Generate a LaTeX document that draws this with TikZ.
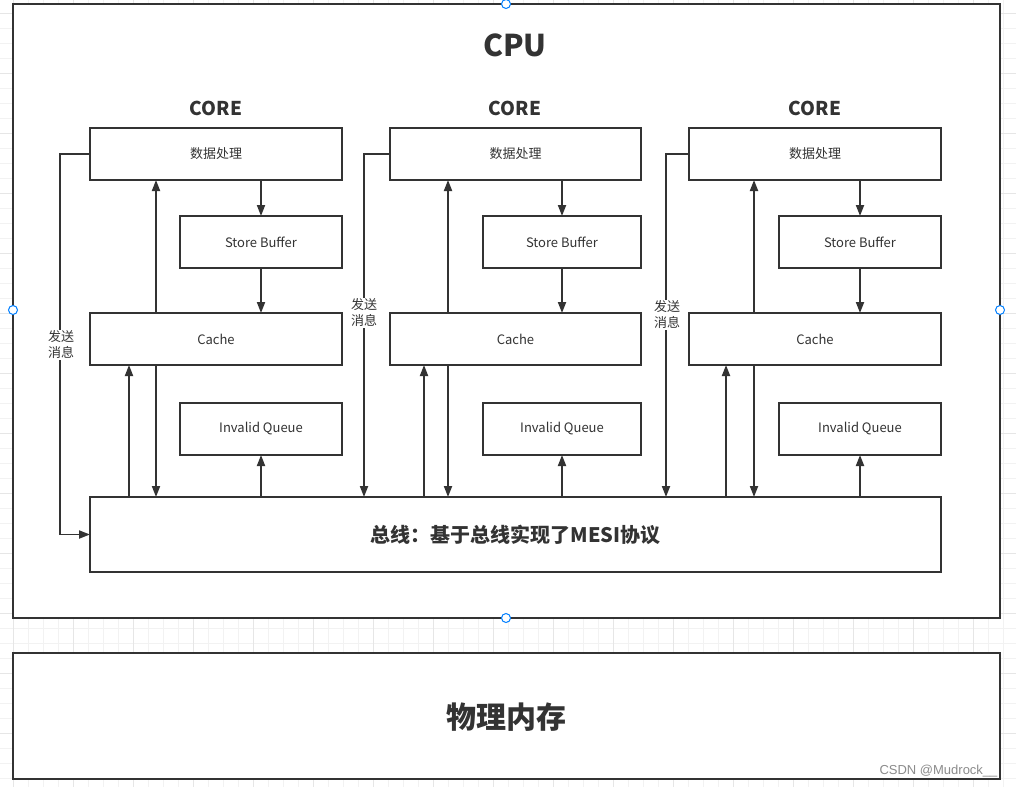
\documentclass[tikz,border=0pt]{standalone}
\usepackage{fontspec}
\setmainfont{Noto Sans CJK SC}
\newfontfamily\wmfont{Liberation Sans}
\usetikzlibrary{arrows.meta}
\definecolor{ink}{HTML}{333333}
\definecolor{gridminor}{HTML}{F2F2F2}
\definecolor{gridmajor}{HTML}{E6E6E6}
\definecolor{handle}{RGB}{0,127,255}
\tikzset{
  box/.style={draw=ink, line width=1.8pt, fill=white, inner sep=0pt, outer sep=0pt,
              anchor=north west, text=ink, font=\fontsize{13}{15}\selectfont},
  bigbox/.style={draw=ink, line width=1.8pt, fill=white, inner sep=0pt, outer sep=0pt, anchor=north west},
  conn/.style={draw=ink, line width=1.9pt},
  arr/.style={conn, -{Triangle[length=11pt,width=8pt]}},
  msg/.style={fill=white, text=ink, inner sep=1pt, align=center,
              font=\fontsize{13}{16}\selectfont},
  corelabel/.style={text=ink, font=\fontsize{19}{21}\selectfont\bfseries},
  handlept/.style={circle, draw=handle, fill=white, line width=1pt, minimum size=9pt, inner sep=0pt},
}
\begin{document}
\begin{tikzpicture}[x=1pt,y=-1pt]
\useasboundingbox (0,0) rectangle (1016,787);
\fill[white] (0,0) rectangle (1016,787);
% grid
\foreach \k in {-1,...,66} \draw[gridminor, line width=0.8pt] ({13+15*\k},0) -- ({13+15*\k},787);
\foreach \k in {-1,...,51} \draw[gridminor, line width=0.8pt] (0,{13+15*\k}) -- (1016,{13+15*\k});
\foreach \k in {-1,...,16} \draw[gridmajor, line width=0.8pt] ({13+60*\k},0) -- ({13+60*\k},787);
\foreach \k in {-1,...,12} \draw[gridmajor, line width=0.8pt] (0,{13+60*\k}) -- (1016,{13+60*\k});

% outer boxes
\node[bigbox, minimum width=987pt, minimum height=614pt] (cpu) at (13,4) {};
\node[bigbox, minimum width=987pt, minimum height=126pt] (mem) at (13,653) {};
\node[text=ink, font=\fontsize{30}{32}\selectfont\bfseries] (cputitle) at (515,45) {CPU};
\node[text=ink, font=\fontsize{30}{32}\selectfont\bfseries] (memtitle) at (506,717) {物理内存};

% bus
\node[box, minimum width=851pt, minimum height=75pt, font=\fontsize{20}{22}\selectfont\bfseries] (bus) at (90,497) {总线：基于总线实现了MESI协议};

% core labels
\node[corelabel] (core1) at (216,108) {CORE};
\node[corelabel] (core2) at (515,108) {CORE};
\node[corelabel] (core3) at (815,108) {CORE};

% core 1
\node[box, minimum width=252pt, minimum height=52pt] (dp1) at (90,128) {数据处理};
\node[box, minimum width=162pt, minimum height=52pt] (sb1) at (180,216) {Store Buffer};
\node[box, minimum width=252pt, minimum height=52pt] (ca1) at (90,313) {Cache};
\node[box, minimum width=162pt, minimum height=52pt] (iq1) at (180,403) {Invalid Queue};
% core 2
\node[box, minimum width=251pt, minimum height=52pt] (dp2) at (390,128) {数据处理};
\node[box, minimum width=158pt, minimum height=52pt] (sb2) at (483,216) {Store Buffer};
\node[box, minimum width=251pt, minimum height=52pt] (ca2) at (390,313) {Cache};
\node[box, minimum width=158pt, minimum height=52pt] (iq2) at (483,403) {Invalid Queue};
% core 3
\node[box, minimum width=252pt, minimum height=52pt] (dp3) at (689,128) {数据处理};
\node[box, minimum width=162pt, minimum height=52pt] (sb3) at (779,216) {Store Buffer};
\node[box, minimum width=252pt, minimum height=52pt] (ca3) at (689,313) {Cache};
\node[box, minimum width=162pt, minimum height=52pt] (iq3) at (779,403) {Invalid Queue};

% helper x positions
\coordinate (u1) at (156,0);  \coordinate (v1) at (129,0);  \coordinate (s1) at (60,0);
\coordinate (u2) at (448,0);  \coordinate (v2) at (424,0);  \coordinate (s2) at (364,0);
\coordinate (u3) at (754,0);  \coordinate (v3) at (726,0);  \coordinate (s3) at (666,0);

\foreach \i in {1,2,3} {
  \draw[arr] (dp\i.south -| sb\i) -- (sb\i.north);
  \draw[arr] (sb\i.south) -- (ca\i.north -| sb\i);
  \draw[arr] (bus.north -| iq\i) -- (iq\i.south);
  \draw[arr] (ca\i.north -| u\i) -- (dp\i.south -| u\i);
  \draw[arr] (bus.north -| v\i) -- (ca\i.south -| v\i);
  \draw[arr] (ca\i.south -| u\i) -- (bus.north -| u\i);
}
% send message connectors
\draw[arr] (dp1.west) -| (s1 |- bus.west) -- (bus.west);
\draw[arr] (dp2.west) -| (bus.north -| s2);
\draw[arr] (dp3.west) -| (bus.north -| s3);
\node[msg] (m1) at (61,345) {发送\\消息};
\node[msg] (m2) at (364,313) {发送\\消息};
\node[msg] (m3) at (667,315) {发送\\消息};

% selection handles
\node[handlept] (h1) at (506,4) {};
\node[handlept] (h2) at (13,310) {};
\node[handlept] (h3) at (1000,310) {};
\node[handlept] (h4) at (506,618) {};

% watermark
\node[anchor=east, text=black!45, font=\wmfont\fontsize{13}{15}\selectfont] (wm) at (1001,771) {CSDN @Mudrock\_\_};
\end{tikzpicture}
\end{document}
